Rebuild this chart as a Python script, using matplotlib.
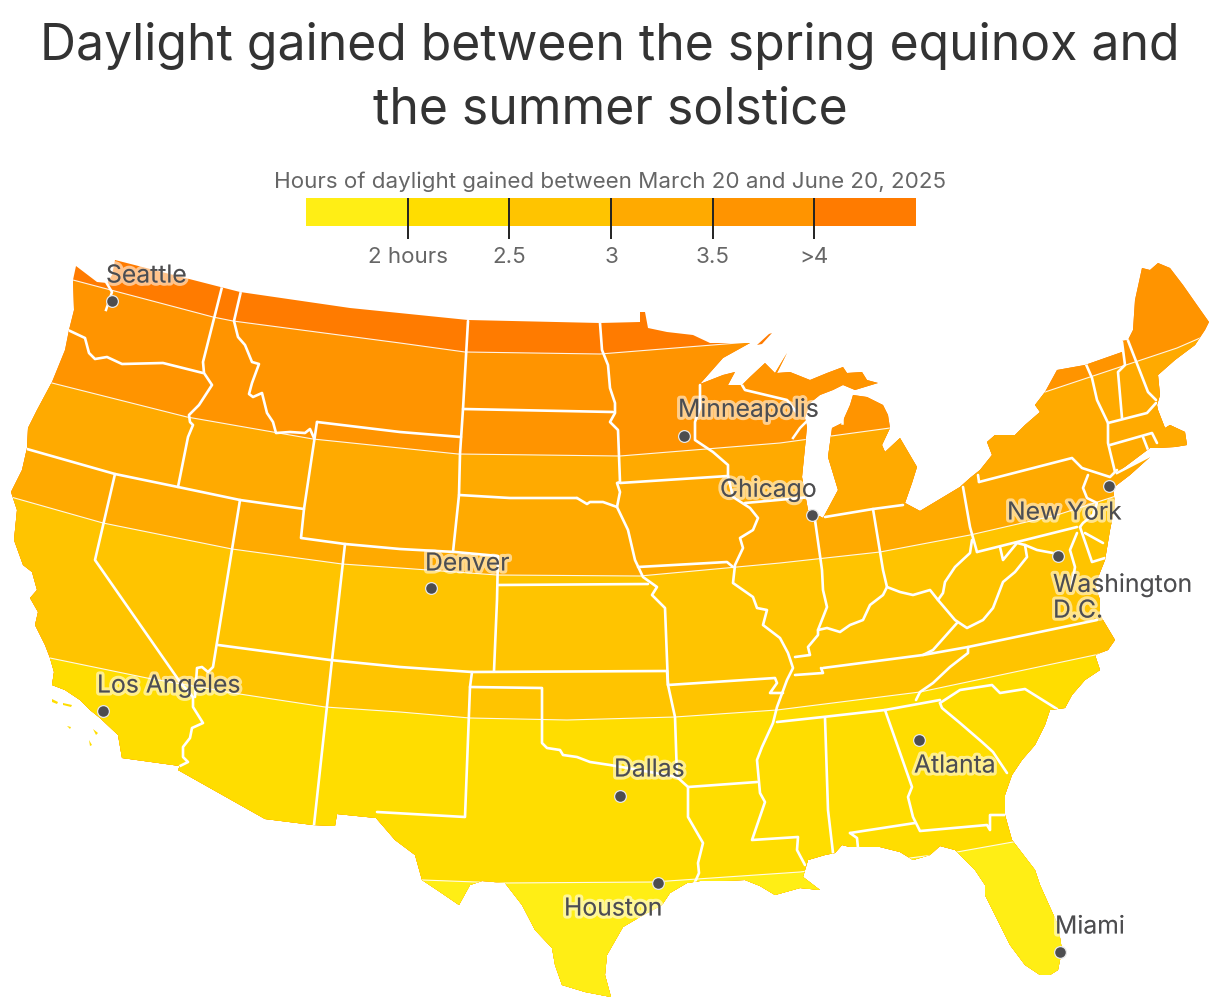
import numpy as np
import matplotlib
matplotlib.use("Agg")
import matplotlib.pyplot as plt
from matplotlib.patches import Polygon
import matplotlib.patheffects as pe

plt.rcParams['font.family'] = ['Inter', 'DejaVu Sans']

TITLE = "Daylight gained between the spring equinox and\nthe summer solstice"
LEGEND_TITLE = "Hours of daylight gained between March 20 and June 20, 2025"
legend_breaks = [1.5, 2, 2.5, 3, 3.5, 4, 4.5]
legend_ticks = [2, 2.5, 3, 3.5, 4]
legend_labels = ["2 hours", "2.5", "3", "3.5", ">4"]
band_colors = ["#ff7b00", "#ff9400", "#ffaa00", "#ffc400", "#ffdd00", "#ffee15"]

city_names = ["Seattle", "Minneapolis", "Chicago", "New York", "Washington\nD.C.", "Denver",
              "Los Angeles", "Dallas", "Atlanta", "Houston", "Miami"]
city_x = [112, 684, 812, 1109, 1058, 431, 103, 620, 919, 658, 1060]
city_y = [301, 436, 515, 486, 556, 588, 711, 796, 740, 883, 952]
label_x = [106, 678, 720, 1007, 1053, 425, 97, 614, 914, 564, 1055]
label_y = [276, 410, 490, 513, 598, 564, 686, 770, 766, 909, 927]

# Map geometry
outline = [(76,266),(73,280),(74,310),(69,330),(65,350),(52,382),(37,410),(28,428),(27,448),(22,470),(11,492),
 (17,510),(14,540),(23,565),(32,572),(37,590),(30,598),(38,612),(35,625),(45,645),(50,658),(54,672),(52,685),
 (65,690),(80,700),(90,710),(100,718),(118,735),(122,758),(180,766),(178,770),(265,819),(313,825),(335,826),
 (337,814),(376,818),(395,840),(415,855),(422,880),(440,892),(459,905),(470,885),(482,881),(505,883),(522,905),
 (535,930),(552,948),(555,965),(562,985),(585,992),(611,997),(605,975),(607,955),(623,927),(640,917),(662,905),
 (670,893),(687,883),(700,881),(720,881),(745,880),(760,886),(775,895),(800,888),(820,890),(803,877),(808,860),
 (825,855),(835,853),(842,845),(850,847),(880,847),(900,852),(913,860),(930,855),(940,846),(955,850),(975,870),
 (985,885),(985,895),(990,905),(1000,925),(1010,945),(1025,965),(1040,975),(1050,975),(1058,970),(1062,950),
 (1058,925),(1040,885),(1035,870),(1012,840),(1005,815),(1005,795),(1012,775),(1022,760),(1035,745),(1045,725),
 (1050,710),(1065,708),(1072,695),(1085,680),(1100,670),(1095,655),(1108,650),(1115,640),(1100,615),(1100,600),
 (1095,585),(1105,560),(1110,530),(1115,505),(1113,488),(1130,475),(1150,457),(1118,472),(1150,448),(1157,448),
 (1175,447),(1187,445),(1185,432),(1170,425),(1165,428),(1158,410),(1157,405),(1160,395),(1158,375),(1175,360),
 (1195,345),(1205,330),(1209,322),(1197,305),(1183,285),(1170,268),(1158,263),(1150,270),(1142,268),(1135,300),
 (1133,330),(1128,340),(1122,341),(1122,352),(1085,365),(1057,370),(1045,392),(1035,405),(1040,412),(1025,425),
 (1015,435),(995,435),(987,442),(992,455),(980,470),(970,478),(960,487),(930,505),(920,511),(905,503),(912,483),
 (917,467),(900,438),(885,452),(882,445),(890,428),(888,415),(883,405),(867,397),(853,395),(850,405),(842,423),
 (832,428),(828,457),(838,490),(823,518),(808,510),(802,477),(807,427),(805,418),(810,403),(820,395),(833,390),
 (843,385),(855,390),(878,383),(867,380),(862,372),(847,373),(843,367),(827,373),(810,380),(790,372),(777,373),
 (780,367),(787,353),(775,373),(765,363),(750,377),(742,385),(728,385),(735,372),(723,375),(700,384),(723,358),
 (750,343),(710,343),(693,335),(667,332),(648,328),(645,312),(640,312),(640,322),(600,323),
 (468,320),(350,308),(240,292),(115,260),(112,275),(107,283),(97,282)]

isle_royale = [(757,345),(769,334),(772,333),(762,344)]
channel_islands = [[(52,699),(58,702),(57,704),(52,702)], [(63,703),(72,705),(71,707),(63,705)],
                   [(67,726),(71,727),(70,729)], [(93,729),(98,733),(96,735)], [(89,740),(92,745),(90,746)]]

band_edges = [
 [(-10,266),(73,280),(213,317),(233,321),(400,343),(465,352),(600,354),(750,342),(850,325),(1230,150)],
 [(-10,356),(52,383),(187,417),(313,439),(400,448),(458,454),(620,456),(780,443),(890,428),(1042,393),(1087,378),(1177,348),(1230,325)],
 [(-10,490),(11,497),(103,523),(232,549),(342,564),(400,568),(497,575),(640,576),(780,563),(880,552),(970,535),(1057,515),(1113,497),(1230,450)],
 [(-10,646),(50,658),(147,678),(233,693),(325,707),(400,712),(470,718),(567,720),(675,717),(777,710),(920,692),(1095,655),(1230,620)],
 [(300,870),(423,880),(503,883),(653,882),(800,872),(957,852),(1013,842),(1230,800)],
]

state_lines = [
 [(68,330),(85,338),(89,353),(95,359),(107,357),(122,364),(163,363),(203,373)],
 [(222,287),(203,362),(204,373),(212,385),(199,405),(189,415),(190,422),(193,425),(188,437),(178,487)],
 [(241,291),(234,321),(238,337),(245,345),(252,362),(259,364),(252,383),(249,394),(253,397),(262,393),(267,413),(273,422),(276,433),(290,432),(305,433),(310,429),(314,438)],
 [(317,422),(304,509),(301,538),(345,544),(400,549),(455,552),(498,556),(497,600),(494,671)],
 [(317,422),(400,432),(461,437)],
 [(27,449),(115,474),(178,487),(240,500),(304,509)],
 [(115,474),(95,560),(180,682),(193,697),(193,707),(203,723),(192,728),(190,738),(183,747),(183,757),(188,762),(180,766)],
 [(240,500),(213,667),(208,672),(202,667),(197,668),(195,697)],
 [(218,645),(330,660),(400,667),(472,672),(667,671)],
 [(345,544),(332,660),(314,825)],
 [(472,672),(470,687),(465,817),(377,812)],
 [(470,687),(542,688),(542,743),(547,748),(560,750),(563,755),(577,757),(590,762),(610,765),(650,772),(677,777),(688,787),(688,817),(703,843),(698,863),(699,873),(695,882)],
 [(667,671),(668,685),(675,717),(677,777)],
 [(688,787),(757,782)],
 [(668,685),(775,678),(777,683),(770,693),(783,693)],
 [(577,498),(587,504),(590,502),(603,502),(617,507),(628,530),(635,560),(643,577),(657,587),(652,595),(665,608),(668,685)],
 [(600,323),(602,350),(608,365),(610,388),(615,403),(615,413),(610,422),(618,430),(620,482),(617,483),(620,492),(617,507)],
 [(463,409),(613,412)],
 [(459,495),(510,498),(577,498)],
 [(468,321),(463,409),(460,454),(459,495),(453,552)],
 [(498,585),(648,584)],
 [(620,483),(728,476)],
 [(700,385),(700,408),(695,422),(695,440),(713,452),(728,465),(728,476),(733,497),(750,508),(758,518),(753,530),(740,538),(743,548),(735,565),(733,583),(753,597),(757,608),(767,610),(763,625),(780,638),(788,653),(793,668),(787,680),(777,707),(773,723),(762,747),(757,760),(760,793),(765,802),(752,840),(798,837),(797,850),(805,865)],
 [(742,385),(745,390),(787,400),(797,413)],
 [(745,503),(800,498),(810,497)],
 [(638,567),(727,562),(733,567)],
 [(815,520),(822,570),(823,590),(827,607),(818,630)],
 [(795,657),(810,655),(808,647),(818,635),(818,630),(827,628),(840,632),(850,625),(863,620),(870,605),(883,595),(887,587),(900,592),(913,595),(930,590),(938,600)],
 [(825,517),(873,509),(903,505)],
 [(873,509),(883,570),(887,587)],
 [(963,487),(970,527),(977,552)],
 [(972,540),(970,553),(955,567),(945,582),(943,593),(938,600),(955,620),(967,628),(983,620),(993,608),(1003,582),(1015,572),(1027,557),(1025,545)],
 [(977,552),(1077,527)],
 [(1000,547),(1003,560),(1017,543),(1025,545),(1037,550),(1053,553)],
 [(1080,527),(1092,562),(1105,558)],
 [(1077,533),(1070,550),(1075,567),(1072,585)],
 [(1085,533),(1103,543)],
 [(823,668),(923,655),(968,647),(1097,620)],
 [(795,675),(823,673),(821,668)],
 [(968,647),(968,653),(950,667),(933,683),(920,692),(916,700)],
 [(777,722),(823,717),(885,710),(940,700)],
 [(825,718),(828,810),(833,853)],
 [(885,710),(912,787),(908,797),(913,817),(920,831),(987,825),(990,830),(990,815),(1005,815)],
 [(850,833),(915,823)],
 [(850,833),(857,838),(858,848)],
 [(940,703),(942,708),(960,723),(982,742),(993,752),(1007,773)],
 [(940,703),(960,690),(992,685),(1000,693),(1025,689),(1057,709)],
 [(957,623),(933,650),(923,655)],
 [(979,482),(978,475)],
 [(979,482),(1072,458),(1082,468),(1110,477),(1117,470)],
 [(1088,475),(1083,488),(1087,498),(1097,503),(1093,515),(1083,523),(1080,527)],
 [(1085,362),(1092,378),(1097,400),(1108,423),(1108,443),(1115,472)],
 [(1122,342),(1125,365),(1118,372),(1122,418)],
 [(1127,338),(1148,392),(1156,400)],
 [(1108,423),(1147,413),(1156,403)],
 [(1110,445),(1152,433),(1157,443)],
 [(1143,437),(1150,455)],
]
thin_water = [[(793,438),(800,428),(807,421)], [(106,282),(112,292),(106,310)], [(1117,473),(1148,457)], [(842,423),(842,405)]]

fig = plt.figure(figsize=(12.2, 10.08), dpi=100)
ax = fig.add_axes([0, 0, 1, 1])
ax.set_xlim(0, 1220)
ax.set_ylim(1008, 0)
ax.axis("off")

land = Polygon(outline, closed=True, facecolor="none", edgecolor="none")
ax.add_patch(land)

tops = [[(-10, -10), (1230, -10)]] + band_edges
for top, colour in zip(tops, band_colors):
    # bands are stacked: each polygon runs from its upper edge to the page bottom
    poly = list(top) + [(1230, 1020), (-10, 1020)]
    p = Polygon(poly, closed=True, facecolor=colour, edgecolor="none", zorder=2)
    ax.add_patch(p)
    p.set_clip_path(land)

for edge in band_edges:
    xs, ys = zip(*edge)
    l, = ax.plot(xs, ys, color="white", lw=0.8, alpha=0.9, zorder=3)
    l.set_clip_path(land)

for shape, colour in [(isle_royale, band_colors[0])] + [(c, band_colors[4]) for c in channel_islands]:
    ax.add_patch(Polygon(shape, closed=True, facecolor=colour, edgecolor="none", zorder=2))

for seg in state_lines:
    xs, ys = zip(*seg)
    l, = ax.plot(xs, ys, color="white", lw=1.9, solid_joinstyle="round", solid_capstyle="round", zorder=4)
    l.set_clip_path(land)
for seg in thin_water:
    xs, ys = zip(*seg)
    ax.plot(xs, ys, color="white", lw=1.8, zorder=4)

ax.scatter(city_x, city_y, s=72, color="#4d4d4f", edgecolor="#e8e8e8", linewidth=0.9, zorder=6)

halo = [pe.withStroke(linewidth=4.5, foreground=(1, 1, 1, 0.55))]
for name, lx, ly in zip(city_names, label_x, label_y):
    ax.text(lx, ly, name, fontsize=17.8, color="#4d4d4f", ha="left", va="center",
            linespacing=1.15, zorder=7, path_effects=halo)

ax.text(610, 78, TITLE, fontsize=35.9, color="#333333", ha="center", va="center", linespacing=1.45, zorder=8)
ax.text(610, 182, LEGEND_TITLE, fontsize=16.1, color="#666666", ha="center", va="center", zorder=8)

# Legend scale: a small axes whose x axis is hours of daylight
lg = fig.add_axes([306 / 1220, 1 - 226 / 1008, 610 / 1220, 28 / 1008])
lg.set_xlim(legend_breaks[0], legend_breaks[-1])
lg.set_ylim(0, 1)
for a, b, colour in zip(legend_breaks[:-1], legend_breaks[1:], band_colors[::-1]):
    lg.bar(a, 1, width=b - a, align="edge", color=colour, linewidth=0)
for s in lg.spines.values():
    s.set_visible(False)
lg.set_yticks([])
lg.set_xticks(legend_ticks)
lg.set_xticklabels(legend_labels, fontsize=16.1, color="#666666")
lg.tick_params(axis="x", length=9, width=1.4, color="#222222", pad=6)
lg.vlines(legend_ticks, 0, 1, color="#222222", lw=1.4, zorder=5)

fig.savefig("out.png", dpi=100)
